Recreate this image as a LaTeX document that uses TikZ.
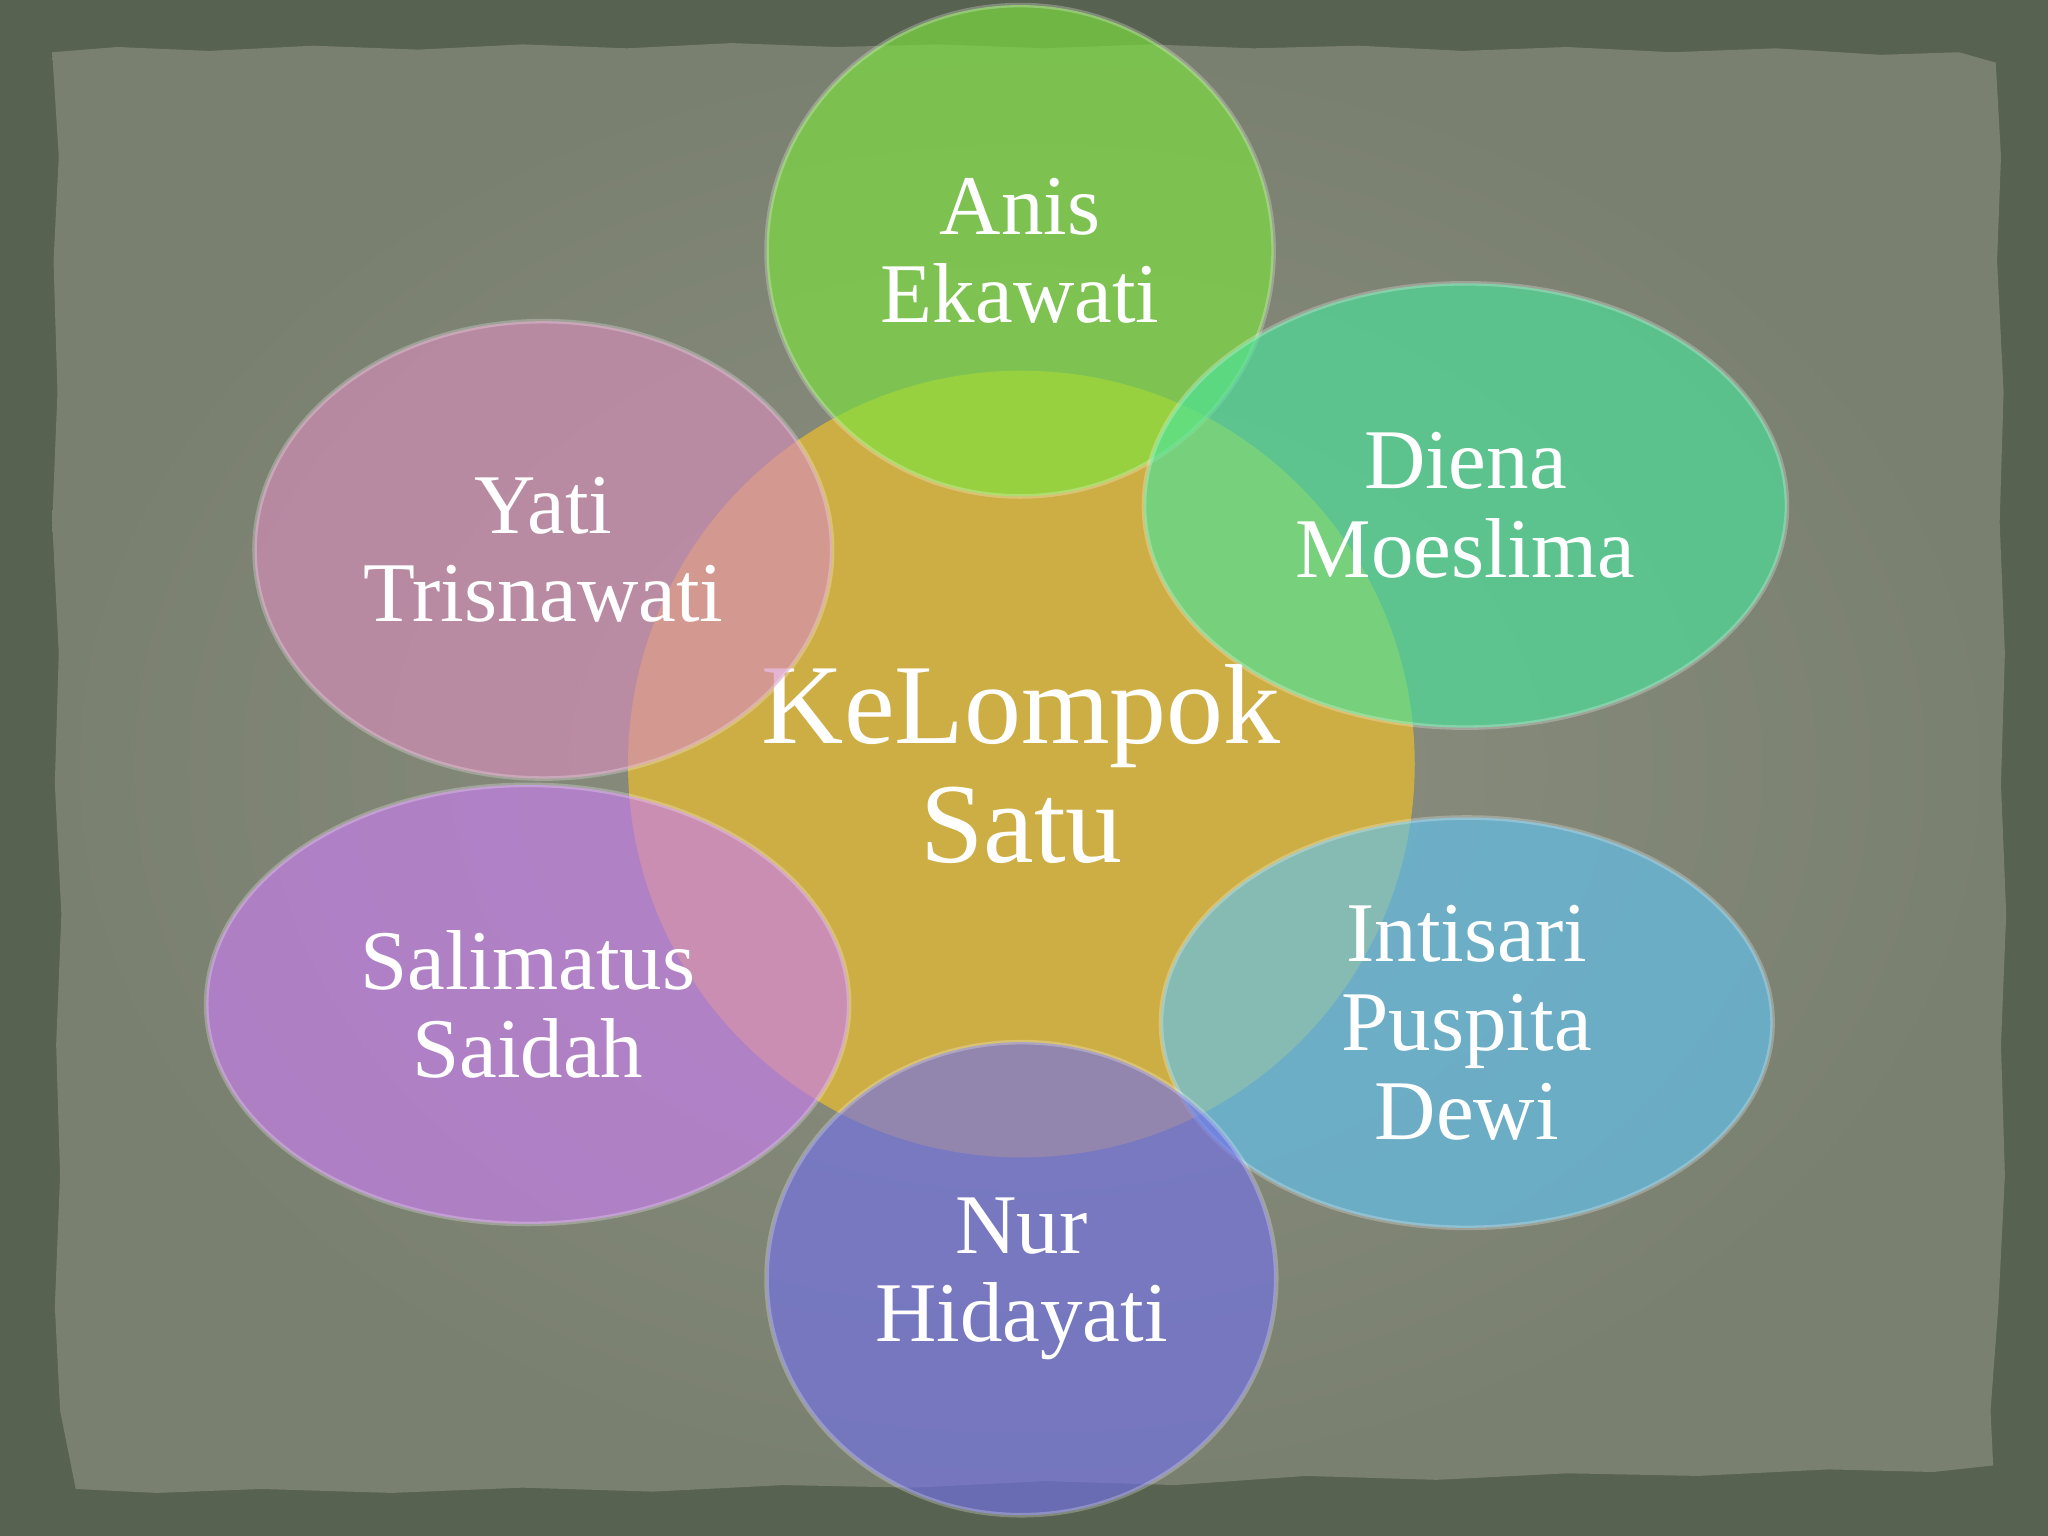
\documentclass[tikz,border=0pt]{standalone}
\usepackage{fontspec}
\setmainfont{Liberation Serif}
\usetikzlibrary{shapes.geometric}

\definecolor{frame}{RGB}{88,98,80}
\definecolor{paperlight}{RGB}{140,144,130}
\definecolor{paperdark}{RGB}{122,128,112}
\definecolor{mustard}{RGB}{205,174,68}
\definecolor{anisgreen}{RGB}{125,228,63}
\definecolor{dienagreen}{RGB}{74,228,155}
\definecolor{intisariblue}{RGB}{97,195,240}
\definecolor{nurblue}{RGB}{115,114,232}
\definecolor{salimatusviolet}{RGB}{202,126,240}
\definecolor{yatipink}{RGB}{215,142,186}

\tikzset{
	member/.style={ellipse, inner sep=0pt, fill opacity=0.65, text opacity=1,
		draw=white, draw opacity=0.25, line width=1pt, text=white, align=center,
		font=\fontsize{18.5}{19.3}\selectfont},
	hub/.style={circle, inner sep=0pt, fill=mustard, text=white, align=center,
		font=\fontsize{24.8}{26}\selectfont}
}

\begin{document}
\begin{tikzpicture}[x=0.01cm,y=-0.01cm]
				\useasboundingbox (0,0) rectangle (1568,1176);
				\fill[frame] (0,0) rectangle (1568,1176);
				
				% torn paper
				\shade[inner color=paperlight, outer color=paperdark]
				(40,40) -- (90,36) -- (160,39) -- (240,35) -- (320,38) -- (400,34) -- (480,37)
				-- (560,33) -- (640,36) -- (720,34) -- (800,37) -- (880,34) -- (960,37)
				-- (1040,35) -- (1120,39) -- (1200,36) -- (1280,40) -- (1360,37) -- (1440,42)
				-- (1500,40) -- (1528,48) -- (1532,120) -- (1529,200) -- (1534,300) -- (1531,400)
				-- (1535,500) -- (1532,600) -- (1536,700) -- (1532,800) -- (1535,900) -- (1530,1000)
				-- (1524,1080) -- (1526,1122) -- (1480,1127) -- (1400,1125) -- (1300,1130)
				-- (1200,1128) -- (1100,1133) -- (1000,1130) -- (900,1137) -- (800,1134)
				-- (700,1139) -- (600,1137) -- (500,1142) -- (400,1139) -- (300,1143)
				-- (200,1140) -- (120,1143) -- (58,1140) -- (46,1080) -- (42,1000) -- (46,900)
				-- (43,800) -- (47,700) -- (42,600) -- (45,500) -- (40,400) -- (44,300)
				-- (41,200) -- (45,120) -- cycle;
				
				\node[hub, minimum size=6.02cm] (kelompok) at (782,585) {KeLompok\\Satu};
				
				\node[member, fill=anisgreen, minimum width=3.88cm, minimum height=3.76cm] (anis) at (781,192) {Anis\\Ekawati};
				\node[member, fill=dienagreen, minimum width=4.92cm, minimum height=3.40cm] (diena) at (1122,387) {Diena\\Moeslima};
				\node[member, fill=intisariblue, minimum width=4.68cm, minimum height=3.14cm] (intisari) at (1123,783) {Intisari\\Puspita\\Dewi};
				\node[member, fill=nurblue, minimum width=3.90cm, minimum height=3.62cm] (nur) at (782,979) {Nur\\Hidayati};
				\node[member, fill=salimatusviolet, minimum width=4.92cm, minimum height=3.36cm] (salimatus) at (404,769) {Salimatus\\Saidah};
				\node[member, fill=yatipink, minimum width=4.42cm, minimum height=3.50cm] (yati) at (416,421) {Yati\\Trisnawati};
			\end{tikzpicture}
\end{document}
